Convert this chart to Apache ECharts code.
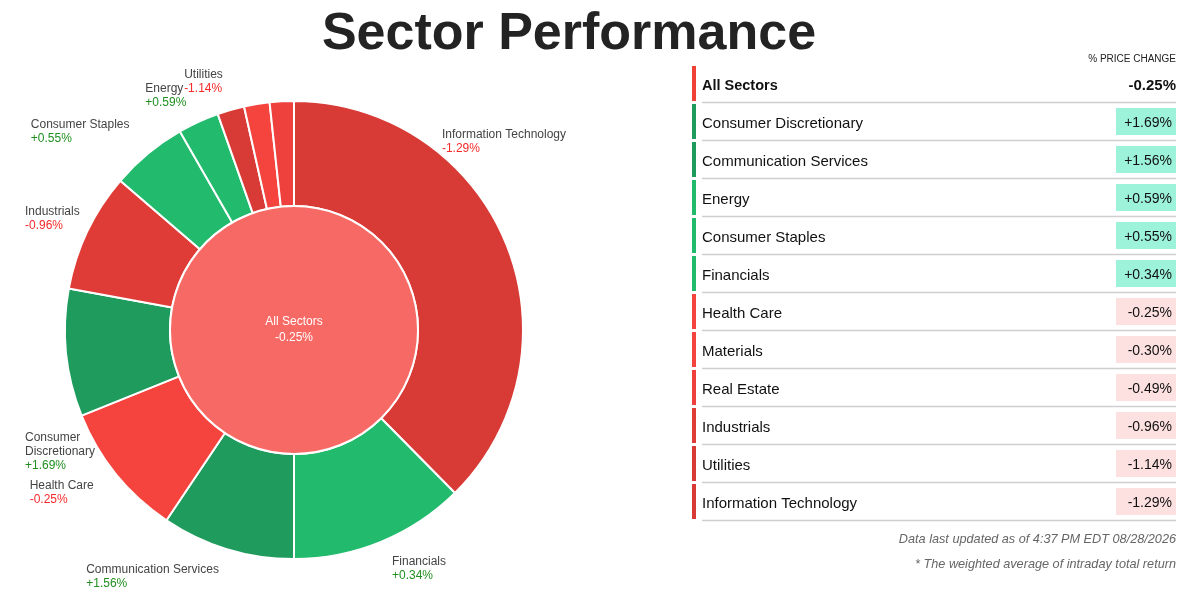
<!DOCTYPE html>
<html>
<head>
<meta charset="utf-8">
<script src="https://cdn.jsdelivr.net/npm/echarts@6/dist/echarts.min.js"></script>
<style>
html,body{margin:0;padding:0;background:#fff;}
#chart{width:1203px;height:614px;}
</style>
</head>
<body>
<div id="chart"></div>
<script>
// ---------------- data ----------------
const titleText = 'Sector Performance';
const allSectorsName = 'All Sectors';
const allSectorsChange = -0.25;

// donut ring (clockwise from 12 o'clock)
const sectorNames   = ['Information Technology','Financials','Communication Services','Health Care','Consumer Discretionary','Industrials','Consumer Staples','Energy','Utilities','Materials','Real Estate'];
const sectorWeights = [37.6, 12.4, 9.4, 9.5, 9.0, 8.4, 5.4, 2.9, 1.9, 1.8, 1.7];
const sectorChanges = [-1.29, 0.34, 1.56, -0.25, 1.69, -0.96, 0.55, 0.59, -1.14, -0.30, -0.49];

// table (sorted by change)
const tableNames   = ['Consumer Discretionary','Communication Services','Energy','Consumer Staples','Financials','Health Care','Materials','Real Estate','Industrials','Utilities','Information Technology'];
const tableChanges = [1.69, 1.56, 0.59, 0.55, 0.34, -0.25, -0.30, -0.49, -0.96, -1.14, -1.29];

const tableHeader = '% PRICE CHANGE';
const footNotes = ['Data last updated as of 4:37 PM EDT 08/28/2026', '* The weighted average of intraday total return'];

// ---------------- styling helpers ----------------
const FONT = '"Liberation Sans", Arial, Helvetica, sans-serif';
function fmt(v){ return (v > 0 ? '+' : (v < 0 ? '-' : '')) + Math.abs(v).toFixed(2) + '%'; }
function colorFor(v){
  if (v >= 1) return '#1f9b5e';
  if (v >= 0) return '#22bb6e';
  if (v <= -1) return '#d83a36';
  if (v <= -0.75) return '#df3c37';
  if (v <= -0.4) return '#ee403c';
  return '#f5433e';
}

// ---------------- pie geometry & label placement ----------------
const CX = 294, CY = 330, R_IN = 124, R_OUT = 229;
const LABEL_R = 258, LEFT_BOUND = 25, RIGHT_BOUND = 566, LINE_H = 14, GAP = 0, PUSH_GAP = 6, TOL = 4;

const ctx = document.createElement('canvas').getContext('2d');
ctx.font = '12px ' + FONT;
const tw = s => ctx.measureText(s).width;

const total = sectorWeights.reduce((a,b)=>a+b,0);
let cum = 0;
const labelInfo = sectorNames.map((name, i) => {
  const mid = (cum + sectorWeights[i]/2) / total * 2 * Math.PI;
  cum += sectorWeights[i];
  const s = Math.sin(mid), c = Math.cos(mid);
  const ax = CX + LABEL_R * s, ay = CY - LABEL_R * c;
  const onLeft = s < 0;
  const val = fmt(sectorChanges[i]);
  let lines = [name];
  let w = Math.max(tw(name), tw(val));
  if (onLeft && ax - w < LEFT_BOUND && name.indexOf(' ') > 0) {
    lines = name.split(' ');
    w = Math.max(...lines.map(tw), tw(val));
  }
  const h = (lines.length + 1) * LINE_H;
  let x0 = onLeft ? ax - w : ax;
  let y0 = ay - h/2;
  let moved = false;
  if (x0 < LEFT_BOUND) { x0 = LEFT_BOUND; moved = true; }
  if (x0 + w > RIGHT_BOUND) { x0 = RIGHT_BOUND - w; moved = true; }
  if (moved) {
    const nx = Math.min(Math.max(CX, x0), x0 + w);
    const ny = Math.min(Math.max(CY, y0), y0 + h);
    const rr = R_OUT + GAP;
    if (Math.hypot(nx - CX, ny - CY) < rr) {
      const dx = nx - CX;
      const need = Math.sqrt(Math.max(rr*rr - dx*dx, 0));
      y0 = ay > CY ? CY + need : CY - need - h;
    }
  }
  return { i, lines, val, x: x0, y: y0, w, h, moved, show: true };
});
// moved labels give way to labels that sit at their natural place
labelInfo.filter(L => L.moved).forEach(M => {
  labelInfo.filter(U => !U.moved).forEach(U => {
    const ix = Math.min(M.x+M.w, U.x+U.w) - Math.max(M.x, U.x);
    const iy = Math.min(M.y+M.h, U.y+U.h) - Math.max(M.y, U.y);
    if (ix > 0 && iy > -PUSH_GAP) {
      if (U.y + U.h/2 > M.y + M.h/2) M.y = U.y - PUSH_GAP - M.h;
      else M.y = U.y + U.h + PUSH_GAP;
    }
  });
});
// hide overlapping labels, larger slices first
const order = labelInfo.slice().sort((a,b)=>sectorWeights[b.i]-sectorWeights[a.i]);
const shown = [];
order.forEach(L => {
  const hit = shown.some(S => {
    const ix = Math.min(L.x+L.w, S.x+S.w) - Math.max(L.x, S.x);
    const iy = Math.min(L.y+L.h, S.y+S.h) - Math.max(L.y, S.y);
    return ix > TOL && iy > TOL;
  });
  if (hit) L.show = false; else shown.push(L);
});

const ringData = sectorNames.map((name, i) => ({
  name: name,
  value: sectorWeights[i],
  itemStyle: { color: colorFor(sectorChanges[i]) },
  label: { show: labelInfo[i].show }
}));

// ---------------- title, table and notes ----------------
const TX_BAR = 692, TX_TEXT = 702, TX_RIGHT = 1176, ROW_Y0 = 84, ROW_H = 38, TXT_DY = 1.5;
const graphics = [];
graphics.push({
  type: 'text', z: 10,
  style: { x: 569, y: 35, text: titleText, align: 'center', verticalAlign: 'middle',
    font: 'bold 52px ' + FONT, fill: '#232323' }
});
graphics.push({
  type: 'text',
  style: { x: TX_RIGHT, y: 59.5, text: tableHeader, align: 'right', verticalAlign: 'middle',
    font: '10px ' + FONT, fill: '#222' }
});
const rowNames = [allSectorsName].concat(tableNames);
const rowVals = [allSectorsChange].concat(tableChanges);
rowNames.forEach((name, r) => {
  const yc = ROW_Y0 + r * ROW_H;
  const v = rowVals[r];
  const isAll = r === 0;
  graphics.push({ type: 'rect', shape: { x: TX_BAR, y: yc - 18, width: 4, height: 35 },
    style: { fill: isAll ? '#ef4136' : colorFor(v) } });
  graphics.push({ type: 'line', shape: { x1: TX_TEXT, y1: yc + 18.5, x2: TX_RIGHT, y2: yc + 18.5 },
    style: { stroke: '#cfcfcf', lineWidth: 1.5 } });
  if (!isAll) {
    graphics.push({ type: 'rect', shape: { x: 1116, y: yc - 14, width: 60, height: 27 },
      style: { fill: v >= 0 ? '#9cf3d9' : '#fde1e1' } });
  }
  graphics.push({ type: 'text', style: { x: TX_TEXT, y: yc + TXT_DY, text: name, align: 'left', verticalAlign: 'middle',
    font: (isAll ? 'bold 14.5px ' : '15px ') + FONT, fill: '#111' } });
  graphics.push({ type: 'text', style: { x: isAll ? TX_RIGHT : 1172, y: yc + TXT_DY, text: fmt(v), align: 'right', verticalAlign: 'middle',
    font: (isAll ? 'bold 15px ' : '14px ') + FONT, fill: '#111' } });
});
footNotes.forEach((t, k) => {
  graphics.push({ type: 'text', style: { x: TX_RIGHT, y: 539.5 + k * 25, text: t, align: 'right', verticalAlign: 'middle',
    font: 'italic 12.7px ' + FONT, fill: '#666' } });
});

// ---------------- chart ----------------
const chart = echarts.init(document.getElementById('chart'), null, { renderer: 'canvas' });
chart.setOption({
  backgroundColor: '#fff',
  animation: false,
  textStyle: { fontFamily: FONT },
  series: [
    {
      type: 'pie',
      name: 'sectors',
      center: [CX, CY],
      radius: [R_IN, R_OUT],
      startAngle: 90,
      clockwise: true,
      avoidLabelOverlap: false,
      silent: true,
      itemStyle: { borderColor: '#fff', borderWidth: 2 },
      label: {
        show: true,
        position: 'outside',
        overflow: 'none',
        bleedMargin: -2000,
        fontFamily: FONT,
        formatter: p => {
          const L = labelInfo[p.dataIndex];
          const dir = sectorChanges[p.dataIndex] >= 0 ? 'up' : 'dn';
          return L.lines.map(s => '{n|' + s + '}').join('\n') + '\n{' + dir + '|' + L.val + '}';
        },
        rich: {
          n:  { fontSize: 12, lineHeight: LINE_H, color: '#444', fontFamily: FONT, align: 'left' },
          up: { fontSize: 12, lineHeight: LINE_H, color: '#1f8f1f', fontFamily: FONT, align: 'left' },
          dn: { fontSize: 12, lineHeight: LINE_H, color: '#f52a2a', fontFamily: FONT, align: 'left' }
        }
      },
      labelLine: { show: false },
      labelLayout: params => {
        const L = labelInfo[params.dataIndex];
        return { x: L.x, y: L.y, align: 'left', verticalAlign: 'top' };
      },
      data: ringData
    },
    {
      type: 'pie',
      name: 'all',
      center: [CX, CY],
      radius: [0, R_IN],
      silent: true,
      itemStyle: { borderColor: '#fff', borderWidth: 2 },
      label: {
        show: true,
        position: 'center',
        formatter: p => p.name + '\n' + fmt(allSectorsChange),
        color: '#fff',
        fontSize: 12,
        lineHeight: 16,
        fontFamily: FONT
      },
      labelLine: { show: false },
      data: [{ name: allSectorsName, value: total, itemStyle: { color: '#f76964' } }]
    }
  ],
  graphic: graphics
});
</script>
</body>
</html>
